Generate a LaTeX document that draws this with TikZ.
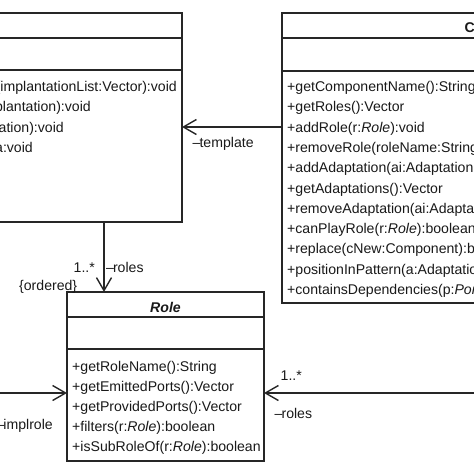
\documentclass[tikz,border=0pt]{standalone}
\usepackage{fontspec}
\setmainfont{Liberation Sans}
\usetikzlibrary{arrows.meta}
\newcommand\umlfont{\fontsize{14.1}{16}\selectfont}
\begin{document}
\begin{tikzpicture}[x=1pt,y=-1pt,
  box/.style={draw=black!85, line width=1.6pt, fill=white, inner sep=0pt, outer sep=0pt, rectangle},
  divider/.style={draw=black!85, line width=1.6pt},
  assoc/.style={draw=black!85, line width=1.4pt, -{Straight Barb[length=13pt,width=15pt]}},
  mtext/.style={anchor=base west, inner sep=0pt, font=\umlfont, text=black!90},
  rtext/.style={anchor=base east, inner sep=0pt, font=\umlfont, text=black!90},
  lbl/.style={anchor=base west, inner sep=0pt, font=\umlfont, text=black!90},
  hdr/.style={inner sep=0pt, font=\umlfont\bfseries, text=black!90}]
\useasboundingbox (0,0) rectangle (474,474);
\clip (0,0) rectangle (474,474);

% class boxes
\node[box, minimum width=582pt, minimum height=209pt] (leftc) at (-109,117.5) {};
\node[box, minimum width=438pt, minimum height=290pt] (comp) at (501,158) {};
\node[box, minimum width=197pt, minimum height=169pt] (role) at (165.5,376.5) {};

% compartment dividers
\draw[divider] (leftc.west |- 0,38) -- (leftc.east |- 0,38);
\draw[divider] (leftc.west |- 0,70) -- (leftc.east |- 0,70);
\draw[divider] (comp.west |- 0,38) -- (comp.east |- 0,38);
\draw[divider] (comp.west |- 0,71) -- (comp.east |- 0,71);
\draw[divider] (role.west |- 0,317) -- (role.east |- 0,317);
\draw[divider] (role.west |- 0,349) -- (role.east |- 0,349);

% headers
\node[hdr, anchor=base west] (compname) at (464.5,32) {Component};
\node[hdr, anchor=base] (rolename) at (165.5,312) {\itshape Role};

% left class operations (cut by the left edge)
\node[rtext] (l0) at (177,91.5) {+setImplantations(implantationList:Vector):void};
\node[rtext] (l1) at (91,111.8) {+addImplantation(i:Implantation):void};
\node[rtext] (l2) at (64,132.1) {+removeImplantation(i:Implantation):void};
\node[rtext] (l3) at (33,152.4) {+applySchema:void};

% Component operations
\foreach \t [count=\i from 0] in {
  {+getComponentName():String},
  {+getRoles():Vector},
  {+addRole(r:\textit{Role}):void},
  {+removeRole(roleName:String):void},
  {+addAdaptation(ai:AdaptationInstance):void},
  {+getAdaptations():Vector},
  {+removeAdaptation(ai:AdaptationInstance):void},
  {+canPlayRole(r:\textit{Role}):boolean},
  {+replace(cNew:Component):boolean},
  {+positionInPattern(a:AdaptationInstance):int},
  {+containsDependencies(p:\textit{Port}):boolean}}
  \node[mtext] (c\i) at (287,{91.5+20.3*\i}) {\t};

% Role operations
\foreach \t [count=\i from 0] in {
  {+getRoleName():String},
  {+getEmittedPorts():Vector},
  {+getProvidedPorts():Vector},
  {+filters(r:\textit{Role}):boolean},
  {+isSubRoleOf(r:\textit{Role}):boolean}}
  \node[mtext] (r\i) at (72,{371+20*\i}) {\t};

% connectors
\coordinate (tplY) at (0,127);
\draw[assoc] (comp.west |- tplY) -- (leftc.east |- tplY);
\node[lbl] (tpl) at (192.5,147.5) {\textendash\kern-1pt template};

\coordinate (rolesX) at (104,0);
\draw[assoc] (leftc.south -| rolesX) -- (role.north -| rolesX);
\node[lbl] (m1) at (73.5,272) {1..*};
\node[lbl] (rn1) at (106,272) {\textendash\kern-1pt roles};
\node[lbl] (ord) at (19,290) {\{ordered\}};

\coordinate (offL) at (-30,393);
\draw[assoc] (offL) -- (role.west |- offL);
\node[rtext] (impl) at (53,429) {\textendash\kern-1pt implrole};

\coordinate (offR) at (520,393);
\draw[assoc] (offR) -- (role.east |- offR);
\node[lbl] (m2) at (280.5,380) {1..*};
\node[lbl] (rn2) at (274.5,418) {\textendash\kern-1pt roles};
\end{tikzpicture}
\end{document}
